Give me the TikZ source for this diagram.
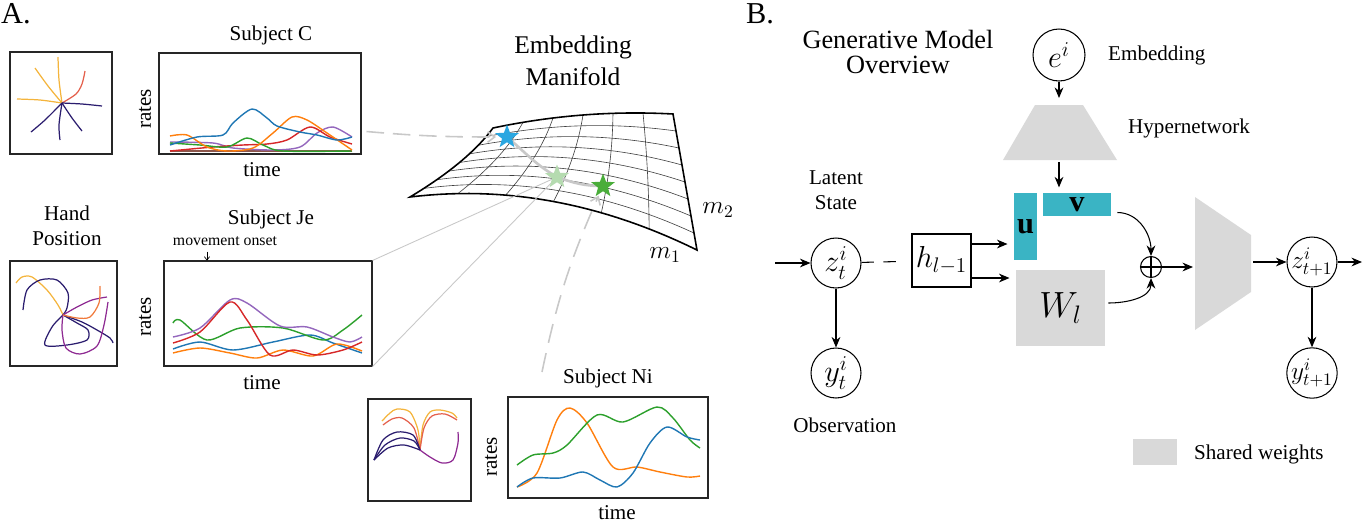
\documentclass[tikz,border=0pt]{standalone}
\usepackage{fontspec}
\setmainfont{Liberation Serif}
\usepackage{amsmath}
\usetikzlibrary{arrows.meta, shapes.geometric, positioning, calc}

\definecolor{tabblue}{HTML}{1F77B4}
\definecolor{taborange}{HTML}{FF7F0E}
\definecolor{tabgreen}{HTML}{2CA02C}
\definecolor{tabred}{HTML}{D62728}
\definecolor{tabpurple}{HTML}{9467BD}
\definecolor{tabbrown}{HTML}{8C564B}
\definecolor{handyellow}{HTML}{F4B43C}
\definecolor{handred}{HTML}{E4604C}
\definecolor{handorange}{HTML}{F07A3C}
\definecolor{handnavy}{HTML}{2A1C6E}
\definecolor{handpurple}{HTML}{8E2A92}
\definecolor{linkgray}{HTML}{C8C8C8}
\definecolor{sharedgray}{HTML}{D9D9D9}
\definecolor{lowrank}{HTML}{3AB4C4}
\definecolor{starblue}{HTML}{2AA7E1}
\definecolor{starlight}{HTML}{B5DBB0}
\definecolor{stargreen}{HTML}{4AAD3A}

\tikzset{
  lab/.style={font=\large},
  panel/.style={font=\LARGE},
  framebox/.style={draw=black!85, line width=0.6pt, inner sep=0},
  var/.style={circle, draw, line width=0.6pt, minimum size=1cm, inner sep=0, font=\LARGE},
  arr/.style={-{Stealth[length=6pt,width=5pt]}, line width=0.6pt},
  curve/.style={line width=0.8pt},
  hand/.style={line width=0.7pt},
  link/.style={draw=linkgray, line width=0.5pt},
  linkarr/.style={draw=linkgray, line width=0.9pt, dash pattern=on 10pt off 5pt,
    -{Straight Barb[length=4pt,width=6pt]}},
  gridline/.style={line width=0.35pt, black!75},
  rim/.style={line width=0.9pt},
  traj/.style={draw=linkgray, line width=1.5pt},
  embstar/.style={star, star points=5, star point ratio=2.4, inner sep=0, minimum size=0.5cm},
}

\begin{document}
\begin{tikzpicture}[x=0.02cm, y=-0.02cm,
  declare function={
    mx(\u,\v)=(1-\u)*(1-\v)*410+\u*(1-\v)*697+(1-\u)*\v*493+\u*\v*673+32*\v*(1-\v)*(1-\u);
    my(\u,\v)=(1-\u)*(1-\v)*197+\u*(1-\v)*250+(1-\u)*\v*128+\u*\v*114-4*\u*(1-\u)*(22-16*\v);
  }]
\useasboundingbox (0,0) rectangle (1367,522);

% ---------------- Panel A ----------------
\node[panel] (pa) at (16,14) {A.};

% Subject C
\node[framebox, minimum width=2.04cm, minimum height=2.04cm] (handC) at (61,103) {};
\draw[hand, handyellow] plot[smooth] coordinates {(62,103) (48,86) (35,68)};
\draw[hand, handyellow] plot[smooth] coordinates {(62,103) (59,80) (58,57)};
\draw[hand, handyellow] plot[smooth] coordinates {(62,103) (40,100) (17,99)};
\draw[hand, handred] plot[smooth] coordinates {(62,103) (76,94) (82,84) (85,71)};
\draw[hand, handnavy] plot[smooth] coordinates {(62,103) (82,104) (102,106)};
\draw[hand, handnavy] plot[smooth] coordinates {(62,103) (45,120) (31,132)};
\draw[hand, handnavy] plot[smooth] coordinates {(62,103) (59,125) (60,140)};
\draw[hand, handnavy] plot[smooth] coordinates {(62,103) (72,118) (82,131)};

\node[framebox, minimum width=4.04cm, minimum height=2.02cm] (plotC) at (260,103.5) {};
\draw[curve, tabbrown] (170,151) -- (352,151);
\draw[curve, tabpurple] plot[smooth] coordinates {(170,142) (213,143) (233,148) (273,150) (300,147) (317,133) (333,127) (352,137)};
\draw[curve, tabred] plot[smooth] coordinates {(170,151) (213,147) (243,145) (267,144) (287,140) (310,127) (330,137) (352,144)};
\draw[curve, tabgreen] plot[smooth] coordinates {(170,143) (200,145) (227,147) (247,138) (263,145) (283,151) (352,151)};
\draw[curve, taborange] plot[smooth] coordinates {(170,136) (187,135) (207,147) (227,151) (253,148) (273,133) (292,117) (307,120) (327,133) (352,150)};
\draw[curve, tabblue] plot[smooth] coordinates {(170,145) (197,137) (223,135) (233,123) (252,109) (267,118) (277,126) (300,132) (317,135) (337,140) (352,137)};
\node[lab] (titleC) at (271,35) {Subject C};
\node[lab, rotate=90] (ratesC) at (145,109) {rates};
\node[lab] (timeC) at (262,170) {time};

% Subject Je
\node[lab, align=center] (handlab) at (67,226) {Hand\\Position};
\node[framebox, minimum width=2.14cm, minimum height=2.1cm] (handJe) at (63.5,313.5) {};
\draw[hand, handyellow] plot[smooth] coordinates {(16,283) (22,277) (32,277) (47,290) (58,305) (63,315)};
\draw[hand, handnavy] plot[smooth] coordinates {(23,310) (27,290) (40,280) (57,280) (68,293) (67,308) (63,315)};
\draw[hand, handnavy] plot[smooth] coordinates {(63,315) (52,327) (45,345) (67,345) (87,340) (88,330) (77,323) (63,315)};
\draw[hand, handnavy] plot[smooth] coordinates {(63,315) (82,322) (97,330) (110,338) (113,343)};
\draw[hand, handpurple] plot[smooth] coordinates {(63,315) (77,307) (92,300) (107,297)};
\draw[hand, handpurple] plot[smooth] coordinates {(63,315) (62,330) (66,348) (80,354) (97,346) (104,325) (108,302)};
\draw[hand, handorange] plot[smooth] coordinates {(63,315) (77,318) (90,317) (99,303) (100,286)};

\node[framebox, minimum width=4.16cm, minimum height=2.1cm] (plotJe) at (268,313.5) {};
\draw[curve, tabblue] plot[smooth] coordinates {(173,349) (200,342) (233,350) (273,342) (310,335) (333,343) (362,353)};
\draw[curve, taborange] plot[smooth] coordinates {(173,353) (200,348) (230,353) (257,358) (283,350) (313,356) (337,344) (362,351)};
\draw[curve, tabgreen] plot[smooth] coordinates {(173,323) (180,320) (207,340) (240,328) (283,328) (323,340) (343,330) (362,315)};
\draw[curve, tabpurple] plot[smooth] coordinates {(173,337) (200,328) (230,300) (247,303) (280,326) (307,327) (333,337) (350,342) (362,337)};
\draw[curve, tabred] plot[smooth] coordinates {(173,343) (200,332) (230,302) (247,320) (270,355) (293,350) (317,355) (343,350) (362,342)};
\node[lab] (titleJe) at (271,219) {Subject Je};
\node[font=\small] (onset) at (225,241) {movement onset};
\draw[-{Straight Barb[length=2pt,width=3pt]}, line width=0.4pt] (onset.south -| 207,0) -- ++(0,9);
\node[lab, rotate=90] (ratesJe) at (145,317) {rates};
\node[lab] (timeJe) at (262,383) {time};

% Subject Ni
\node[framebox, minimum width=2.06cm, minimum height=2.04cm] (handNi) at (419.5,450) {};
\draw[hand, handyellow] plot[smooth] coordinates {(382,421) (390,413) (397,409) (410,412) (418,430) (420,450)};
\draw[hand, handyellow] plot[smooth] coordinates {(420,450) (423,425) (430,412) (440,410) (452,413) (457,418)};
\draw[hand, handred] plot[smooth] coordinates {(383,425) (392,419) (402,418) (414,428) (420,450)};
\draw[hand, handred] plot[smooth] coordinates {(420,450) (424,428) (432,416) (445,414) (457,420)};
\draw[hand, handnavy] plot[smooth] coordinates {(374,460) (383,440) (397,432) (413,435) (420,450)};
\draw[hand, handnavy] plot[smooth] coordinates {(374,460) (385,445) (400,438) (414,441) (420,450)};
\draw[hand, handnavy] plot[smooth] coordinates {(374,460) (388,448) (404,445) (420,450)};
\draw[hand, handpurple] plot[smooth] coordinates {(420,450) (430,457) (442,463) (453,460) (458,443) (458,432)};

\node[framebox, minimum width=4cm, minimum height=2.02cm] (plotNi) at (608,447.5) {};
\draw[curve, taborange] plot[smooth] coordinates {(517,487) (537,473) (557,420) (570,408) (587,423) (613,467) (637,467) (660,472) (687,477) (700,476)};
\draw[curve, tabgreen] plot[smooth] coordinates {(517,465) (533,455) (553,453) (567,445) (597,415) (623,422) (657,407) (673,418) (690,440) (700,448)};
\draw[curve, tabblue] plot[smooth] coordinates {(517,487) (533,478) (560,478) (583,472) (600,480) (617,487) (633,473) (650,443) (667,427) (687,437) (700,440)};
\node[lab] (titleNi) at (608,378) {Subject Ni};
\node[lab, rotate=90] (ratesNi) at (491,457) {rates};
\node[lab] (timeNi) at (617,513) {time};

% Embedding manifold
\node[font=\fontsize{14.5}{18}\selectfont, align=center] (manlab) at (573,61) {Embedding\\Manifold};
\foreach \k in {1,...,5}
  \draw[gridline] plot[domain=0:1, samples=20, variable=\t] ({mx(\k/6,\t)},{my(\k/6,\t)});
\foreach \k in {1,...,7}
  \draw[gridline] plot[domain=0:1, samples=30, variable=\t] ({mx(\t,\k/8)},{my(\t,\k/8)});
\draw[rim] plot[domain=0:1, samples=30, variable=\t] ({mx(\t,0)},{my(\t,0)})
  -- plot[domain=0:1, samples=20, variable=\t] ({mx(1,\t)},{my(1,\t)})
  -- plot[domain=1:0, samples=30, variable=\t] ({mx(\t,1)},{my(\t,1)})
  -- plot[domain=1:0, samples=20, variable=\t] ({mx(0,\t)},{my(0,\t)}) -- cycle;
\node[font=\Large] (m2) at (718,210) {$m_2$};
\node[font=\Large] (m1) at (665,255) {$m_1$};

% Subject embeddings
\coordinate (pC) at (507,137);
\coordinate (pJe) at (557,177);
\coordinate (pNi) at (603,186);
\draw[traj] (pC) to[out=-40, in=150] (pJe) to[out=-20, in=180] (pNi);
\draw[link] (plotJe.north east) -- (pJe);
\draw[link] (plotJe.south east) -- (pJe);
\node[embstar, fill=starblue] (sC) at (pC) {};
\node[embstar, fill=starlight] (sJe) at (pJe) {};
\node[embstar, fill=stargreen] (sNi) at (pNi) {};
\coordinate (niStart) at (542,372);
\draw[linkarr, shorten >=2pt] ([shift={(5,28)}]plotC.east) to[out=-5, in=180] (sC);
\draw[linkarr, dash pattern=on 11pt off 6pt, shorten >=1pt] (niStart) to[bend left=6] (sNi);

% ---------------- Panel B ----------------
\node[panel] (pb) at (760,14) {B.};
\node[font=\fontsize{15}{14}\selectfont, align=center] (genlab) at (898,52) {Generative Model\\Overview};

% Hypernetwork
\node[var, minimum size=1.04cm] (e) at (1059,55) {$e^i$};
\node[lab, anchor=west] (emblab) at (1102,55) {Embedding};
\fill[sharedgray] (1035,105) -- (1083,105) -- (1117,160) -- (1003,160) -- cycle;
\coordinate (hyptop) at (1059,105);
\coordinate (hypbot) at (1059,162);
\node[lab, anchor=west] (hyplab) at (1122,128) {Hypernetwork};
\draw[arr, shorten >=4pt] (e) -- (hyptop);

% Layer weights
\node[fill=lowrank, inner sep=0, minimum width=0.46cm, minimum height=1.34cm, font=\LARGE] (u) at (1025.5,226.5) {$\mathbf{u}$};
\node[fill=lowrank, inner sep=0, minimum width=1.36cm, minimum height=0.46cm, font=\LARGE] (v) at (1077,204.5) {$\mathbf{v}$};
\node[fill=sharedgray, inner sep=0, minimum width=1.78cm, minimum height=1.52cm, font=\huge] (W) at (1060.5,308) {$W_l$};
\draw[arr, shorten >=3pt] (hypbot) -- (hypbot |- v.north);

% Latent state
\node[lab, align=center] (latlab) at (836,190) {Latent\\State};
\node[var] (z0) at (836,263) {$z_t^i$};
\node[var] (y0) at (836,373) {$y_t^i$};
\node[lab] (obslab) at (845,425) {Observation};
\coordinate (zin) at (775,263);
\draw[arr] (zin) -- (z0);
\draw[arr] (z0) -- (y0);
\node[framebox, draw=black, minimum width=1.18cm, minimum height=1.06cm, font=\LARGE] (h) at (941.5,260.5) {$h_{l-1}$};
\draw[line width=0.6pt, dash pattern=on 7pt off 5.5pt, shorten >=8.5pt] (z0) -- (h);
\coordinate (ha) at ([shift={(0,-16.5)}]h.east);
\coordinate (hb) at ([shift={(0,17.5)}]h.east);
\draw[arr, shorten >=3.5pt] (ha) -- (ha -| u.west);
\draw[arr, shorten >=3.5pt] (hb) -- (hb -| W.west);

% Sum and decoder
\node[circle, draw, line width=0.6pt, minimum size=0.42cm, inner sep=0] (plus) at (1151,267) {};
\draw[line width=0.6pt] (plus.north) -- (plus.south) (plus.west) -- (plus.east);
\draw[arr] ([shift={(6,8)}]v.east) to[out=0, in=90] (plus.north);
\draw[arr] ([shift={(3,-5)}]W.east) to[out=0, in=-90] (plus.south);
\fill[sharedgray] (1195,197) -- (1251,235) -- (1251,292) -- (1195,330) -- cycle;
\coordinate (decin) at (1193,267);
\coordinate (decout) at (1253,262);
\draw[arr] (plus) -- (decin);

% Next state
\node[var, font=\Large] (z1) at (1312,262) {$z^i_{t+1}$};
\node[var, font=\Large, minimum size=0.96cm] (y1) at (1312,373) {$y^i_{t+1}$};
\coordinate (zout) at (1362,262);
\draw[arr] (decout) -- (z1);
\draw[arr] (z1) -- (zout);
\draw[arr] (z1) -- (y1);

% Legend
\node[fill=sharedgray, minimum width=0.88cm, minimum height=0.52cm, inner sep=0] (legbox) at (1155,452) {};
\node[lab, anchor=west] (leglab) at (1188,454) {Shared weights};
\end{tikzpicture}
\end{document}
